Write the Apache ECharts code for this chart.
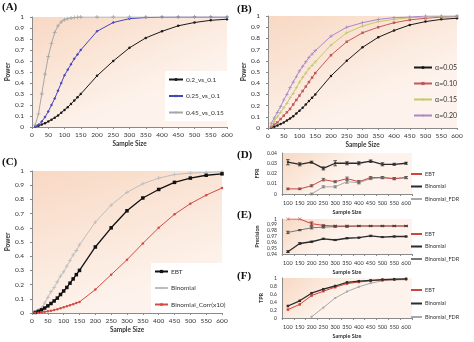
<!DOCTYPE html>
<html><head><meta charset="utf-8">
<script src="https://cdn.jsdelivr.net/npm/echarts@6/dist/echarts.min.js"></script>
<style>html,body{margin:0;padding:0;background:#fff}#c{width:474px;height:342px}</style>
</head><body><div id="c"></div>
<script>
// ---------- data ----------
var sampleSizes = [10,20,30,40,50,60,70,80,90,100,110,120,130,140,150,200,250,300,350,400,450,500,550,600];
var a_02_vs_01  = [0.004,0.012,0.022,0.035,0.05,0.067,0.085,0.105,0.13,0.155,0.18,0.21,0.24,0.27,0.30,0.465,0.60,0.72,0.81,0.87,0.92,0.95,0.97,0.98];
var a_025_vs_01 = [0.005,0.02,0.05,0.09,0.14,0.20,0.26,0.33,0.40,0.47,0.52,0.57,0.62,0.66,0.70,0.87,0.95,0.985,0.995,0.999,1,1,1,1];
var a_045_vs_015= [0.02,0.12,0.30,0.48,0.64,0.76,0.86,0.92,0.955,0.975,0.985,0.99,0.995,0.998,1,1,1,1,1,1,1,1,1,1];
var b_alpha05 = [0.004,0.012,0.022,0.035,0.05,0.067,0.085,0.105,0.13,0.155,0.18,0.21,0.24,0.27,0.30,0.465,0.60,0.72,0.81,0.87,0.92,0.95,0.97,0.98];
var b_alpha10 = [0.01,0.03,0.05,0.08,0.11,0.14,0.17,0.21,0.25,0.29,0.33,0.37,0.41,0.45,0.49,0.65,0.77,0.85,0.90,0.94,0.965,0.98,0.99,0.995];
var b_alpha15 = [0.02,0.06,0.10,0.14,0.18,0.22,0.27,0.31,0.36,0.41,0.45,0.49,0.53,0.56,0.59,0.74,0.85,0.91,0.95,0.97,0.985,0.99,0.995,1];
var b_alpha20 = [0.04,0.09,0.14,0.19,0.25,0.30,0.36,0.41,0.46,0.51,0.55,0.59,0.63,0.66,0.69,0.82,0.90,0.94,0.97,0.985,0.99,1,1,1];
var c_ebt  = [0.004,0.012,0.022,0.035,0.05,0.067,0.085,0.105,0.13,0.155,0.18,0.21,0.24,0.27,0.30,0.465,0.60,0.72,0.81,0.87,0.92,0.95,0.97,0.98];
var c_binomial = [0.005,0.02,0.035,0.07,0.11,0.15,0.18,0.22,0.26,0.29,0.33,0.37,0.41,0.44,0.48,0.64,0.76,0.85,0.91,0.95,0.975,0.985,0.99,0.995];
var c_binomialCorr = [0.001,0.002,0.005,0.008,0.012,0.016,0.021,0.027,0.033,0.04,0.047,0.055,0.062,0.07,0.078,0.165,0.27,0.375,0.49,0.60,0.695,0.77,0.83,0.88];

var defCats = ['100','150','200','250','300','350','400','450','500','550','600'];
var d_ebt = [0.005,0.005,0.008,0.014,0.012,0.015,0.012,0.016,0.016,0.015,0.016];
var d_ebtErr = [0.0008,0.0008,0.001,0.0012,0.001,0.0015,0.0012,0.001,0.001,0.001,0.001];
var d_binomial = [0.031,0.029,0.031,0.025,0.030,0.030,0.030,0.032,0.029,0.029,0.030];
var d_binomialErr = [0.0025,0.0015,0.001,0.0015,0.0025,0.0015,0.0015,0.0012,0.0015,0.001,0.001];
var d_fdr = [null,null,0.0,0.007,0.007,0.012,0.011,0.015,0.016,0.015,0.016];
var d_fdrErr = [0,0,0.0008,0.001,0.001,0.0015,0.0012,0.001,0.001,0.001,0.001];
var e_ebt = [1,1,0.992,0.989,0.988,0.988,0.988,0.988,0.988,0.988,0.988];
var e_ebtErr = [0,0,0.003,0.001,0.001,0.001,0.0005,0.0005,0.0005,0.0005,0.0005];
var e_binomial = [0.944,0.958,0.961,0.966,0.964,0.967,0.968,0.971,0.969,0.970,0.970];
var e_binomialErr = [0.0015,0.0015,0.001,0.001,0.001,0.0008,0.0008,0.0012,0.0008,0.0008,0.0008];
var e_fdr = [0.977,0.981,0.985,0.986,0.987,0.987,0.988,0.988,0.988,0.988,0.988];
var e_fdrErr = [0.002,0.001,0.002,0.0015,0.001,0.001,0.0005,0.0005,0.0005,0.0005,0.0005];
var f_ebt = [0.21,0.34,0.56,0.67,0.77,0.86,0.90,0.93,0.95,0.96,0.97];
var f_binomial = [0.30,0.43,0.62,0.72,0.80,0.89,0.92,0.94,0.96,0.97,0.98];
var f_fdr = [null,null,0.03,0.26,0.50,0.66,0.78,0.87,0.93,0.95,0.96];

// ---------- helpers ----------
var chart = echarts.init(document.getElementById('c'));
var FONT = 'Lato';
var plus = 'path://M4,0H6V4H10V6H6V10H4V6H0V4H4Z';
var cross = 'path://M1,0L5,4L9,0L10,1L6,5L10,9L9,10L5,6L1,10L0,9L4,5L0,1Z';
function pairs(xs, ys){ return xs.map(function(x,i){ return [x, ys[i]]; }); }
function bg(){ return new echarts.graphic.LinearGradient(0,0,0.25,1,[{offset:0,color:'#f8d8c3'},{offset:1,color:'#fdf3ec'}]); }
function grid(l,t,w,h){ return {left:l,top:t,width:w,height:h,show:true,backgroundColor:bg(),borderWidth:0}; }
var axisLine = {lineStyle:{color:'#8a8a8a',width:1}};
function valX(gi, fs){
  return {type:'value',gridIndex:gi,min:0,max:600,interval:50,axisLine:axisLine,axisTick:{show:true,length:2,lineStyle:{color:'#8a8a8a'}},
    splitLine:{show:false},axisLabel:{fontSize:fs,color:'#333',margin:4,fontFamily:FONT,hideOverlap:false},
    name:'Sample Size',nameLocation:'middle',nameGap:13,nameTextStyle:{fontSize:fs,fontWeight:'bold',color:'#333',fontFamily:FONT}};
}
function powY(gi, fs, gap){
  return {type:'value',gridIndex:gi,min:0,max:1,interval:0.1,axisLine:{show:true,lineStyle:{color:'#8a8a8a'}},axisTick:{show:true,length:2,lineStyle:{color:'#8a8a8a'}},
    splitLine:{show:false},axisLabel:{fontSize:fs,color:'#333',margin:8,fontFamily:FONT,hideOverlap:false},
    name:'Power',nameLocation:'middle',nameGap:gap,nameTextStyle:{fontSize:fs,fontWeight:'bold',color:'#333',fontFamily:FONT}};
}
function catX(gi){
  return {type:'category',gridIndex:gi,data:defCats,boundaryGap:true,axisLine:axisLine,
    axisTick:{show:true,length:2,lineStyle:{color:'#8a8a8a'}},
    axisLabel:{fontSize:5.5,color:'#333',margin:6,interval:0,fontFamily:FONT,hideOverlap:false},
    name:'Sample Size',nameLocation:'middle',nameGap:15,nameTextStyle:{fontSize:5.5,fontWeight:'bold',color:'#333',fontFamily:FONT}};
}
function smallY(gi,name,min,max,iv,gap){
  return {type:'value',gridIndex:gi,min:min,max:max,interval:iv,axisLine:{show:true,lineStyle:{color:'#8a8a8a'}},
    axisTick:{show:false},splitLine:{show:false},axisLabel:{fontSize:5,color:'#333',margin:5,fontFamily:FONT,hideOverlap:false,showMinLabel:true,showMaxLabel:true},
    name:name,nameLocation:'middle',nameGap:gap,nameTextStyle:{fontSize:5.5,fontWeight:'bold',color:'#333',fontFamily:FONT}};
}
function line(name, gi, data, color, sym, size, lw){
  return {type:'line',name:name,xAxisIndex:gi,yAxisIndex:gi,data:data,symbol:sym,symbolSize:size,showSymbol:true,
    lineStyle:{color:color,width:lw||1},itemStyle:{color:color},smooth:false,animation:false,connectNulls:false};
}
function errSeries(name, gi, vals, errs, color){
  var data = vals.map(function(v,i){ return v==null?null:[i, v, errs[i]]; }).filter(function(d){return d && d[2]>0;});
  return {type:'custom',name:name,xAxisIndex:gi,yAxisIndex:gi,data:data,animation:false,z:5,
    renderItem:function(p, api){
      var x=api.value(0), v=api.value(1), e=api.value(2);
      var hi=api.coord([x,v+e]), lo=api.coord([x,v-e]); var w=1.8;
      var st={stroke:color,lineWidth:0.8};
      return {type:'group',children:[
        {type:'line',shape:{x1:hi[0],y1:hi[1],x2:lo[0],y2:lo[1]},style:st},
        {type:'line',shape:{x1:hi[0]-w,y1:hi[1],x2:hi[0]+w,y2:hi[1]},style:st},
        {type:'line',shape:{x1:lo[0]-w,y1:lo[1],x2:lo[0]+w,y2:lo[1]},style:st}]};
    }};
}
var labelMap = {};
function lg(names, left, top, fs, ih, gap, white, iw, icon){
  var o = {left:left,top:top,orient:'vertical',data:names,itemGap:gap,itemHeight:ih,itemWidth:iw,
    padding:white?[5,4,5,3]:0,backgroundColor:white?'#ffffff':'transparent',
    textStyle:{fontSize:fs,color:'#333',fontFamily:FONT,padding:[0,0,0,-2]},
    formatter:function(n){ return labelMap[n]||n; },selectedMode:false};
  if(icon) o.icon = icon;
  return o;
}
['D','E','F'].forEach(function(k){
  labelMap['EBT_'+k]='EBT'; labelMap['Binomial_'+k]='Binomial'; labelMap['FDR_'+k]='Binomial_FDR';
});
labelMap['EBT_C']='EBT'; labelMap['Binomial_C']='Binomial'; labelMap['Corr_C']='Binomial_Corr(x10)';
labelMap['b05']='\u03b1=0.05'; labelMap['b10']='\u03b1=0.10'; labelMap['b15']='\u03b1=0.15'; labelMap['b20']='\u03b1=0.20';

var RED='#d0443f', DARK='#2b2b2b', GRAY='#a8a8a8';
function cat(vals){ return vals.map(function(v,i){ return [i,v]; }); }

var titleStyle = {fontFamily:'Liberation Serif',fontWeight:'bold',fontSize:11,color:'#111'};
var option = {
  backgroundColor:'#ffffff',
  animation:false,
  textStyle:{fontFamily:FONT},
  title:[
    {text:'(A)',left:2,top:2,textStyle:titleStyle,padding:0},
    {text:'(B)',left:237,top:4,textStyle:titleStyle,padding:0},
    {text:'(C)',left:2,top:157,textStyle:titleStyle,padding:0},
    {text:'(D)',left:237,top:150,textStyle:titleStyle,padding:0},
    {text:'(E)',left:237,top:210,textStyle:titleStyle,padding:0},
    {text:'(F)',left:237,top:271,textStyle:titleStyle,padding:0}
  ],
  grid:[grid(32,17,195,110), grid(268,16,189,112), grid(32,171,190,142),
        grid(282,153,130,41), grid(282,219,130,35), grid(282,278,130,40)],
  xAxis:[valX(0,6.5), valX(1,6.5), valX(2,6.5), catX(3), catX(4), catX(5)],
  yAxis:[powY(0,6.5,19), powY(1,6.5,19), powY(2,6.5,19),
         smallY(3,'FPR',0,0.04,0.01,22), smallY(4,'Precision',0.94,1,0.01,22), smallY(5,'TPR',0,1,0.2,18)],
  legend:[
    lg(['0.2_vs_0.1','0.25_vs_0.1','0.45_vs_0.15'],165,71,6.5,4,9.5,true,14),
    lg(['b05','b10','b15','b20'],413,64,7,4,9,false,18),
    lg(['EBT_C','Binomial_C','Corr_C'],151,263,6.5,4,9.5,true,13),
    lg(['EBT_D','Binomial_D','FDR_D'],411,171,5.5,2,6.5,false,11,'rect'),
    lg(['EBT_E','Binomial_E','FDR_E'],411,231,5.5,2,6.5,false,11,'rect'),
    lg(['EBT_F','Binomial_F','FDR_F'],411,287,5.5,2,7.5,false,11,'rect')
  ],
  series:[
    line('0.2_vs_0.1',0,pairs(sampleSizes,a_02_vs_01),'#1a1a1a','circle',2.5,1),
    line('0.25_vs_0.1',0,pairs(sampleSizes,a_025_vs_01),'#4646bd','diamond',3,1),
    line('0.45_vs_0.15',0,pairs(sampleSizes,a_045_vs_015),'#a6a6a6',plus,4,1),
    line('b05',1,pairs(sampleSizes,b_alpha05),'#1a1a1a','circle',2.5,1),
    line('b10',1,pairs(sampleSizes,b_alpha10),'#c05a5a','rect',2.5,1),
    line('b15',1,pairs(sampleSizes,b_alpha15),'#c4c86e',plus,3.5,1),
    line('b20',1,pairs(sampleSizes,b_alpha20),'#a889c6',plus,3.5,1),
    line('Binomial_C',2,pairs(sampleSizes,c_binomial),'#bdbdbd',plus,4,1),
    line('EBT_C',2,pairs(sampleSizes,c_ebt),'#111111','rect',3.5,1.3),
    line('Corr_C',2,pairs(sampleSizes,c_binomialCorr),'#d64a45','circle',2.5,1),
    line('FDR_D',3,cat(d_fdr),GRAY,'rect',2,1),
    line('EBT_D',3,cat(d_ebt),RED,'rect',2,1),
    line('Binomial_D',3,cat(d_binomial),DARK,'rect',2,1.3),
    errSeries('eD1',3,d_fdr,d_fdrErr,'#777'),
    errSeries('eD2',3,d_ebt,d_ebtErr,'#555'),
    errSeries('eD3',3,d_binomial,d_binomialErr,DARK),
    line('FDR_E',4,cat(e_fdr),'#777777','rect',2,1),
    line('EBT_E',4,cat(e_ebt),RED,cross,3.5,1),
    line('Binomial_E',4,cat(e_binomial),DARK,'rect',2,1.3),
    errSeries('eE1',4,e_fdr,e_fdrErr,'#444'),
    errSeries('eE2',4,e_ebt,e_ebtErr,'#444'),
    errSeries('eE3',4,e_binomial,e_binomialErr,DARK),
    line('FDR_F',5,cat(f_fdr),GRAY,'rect',2,1),
    line('EBT_F',5,cat(f_ebt),RED,'rect',2.5,1),
    line('Binomial_F',5,cat(f_binomial),DARK,'rect',2.5,1.3)
  ]
};
chart.setOption(option);
</script></body></html>
